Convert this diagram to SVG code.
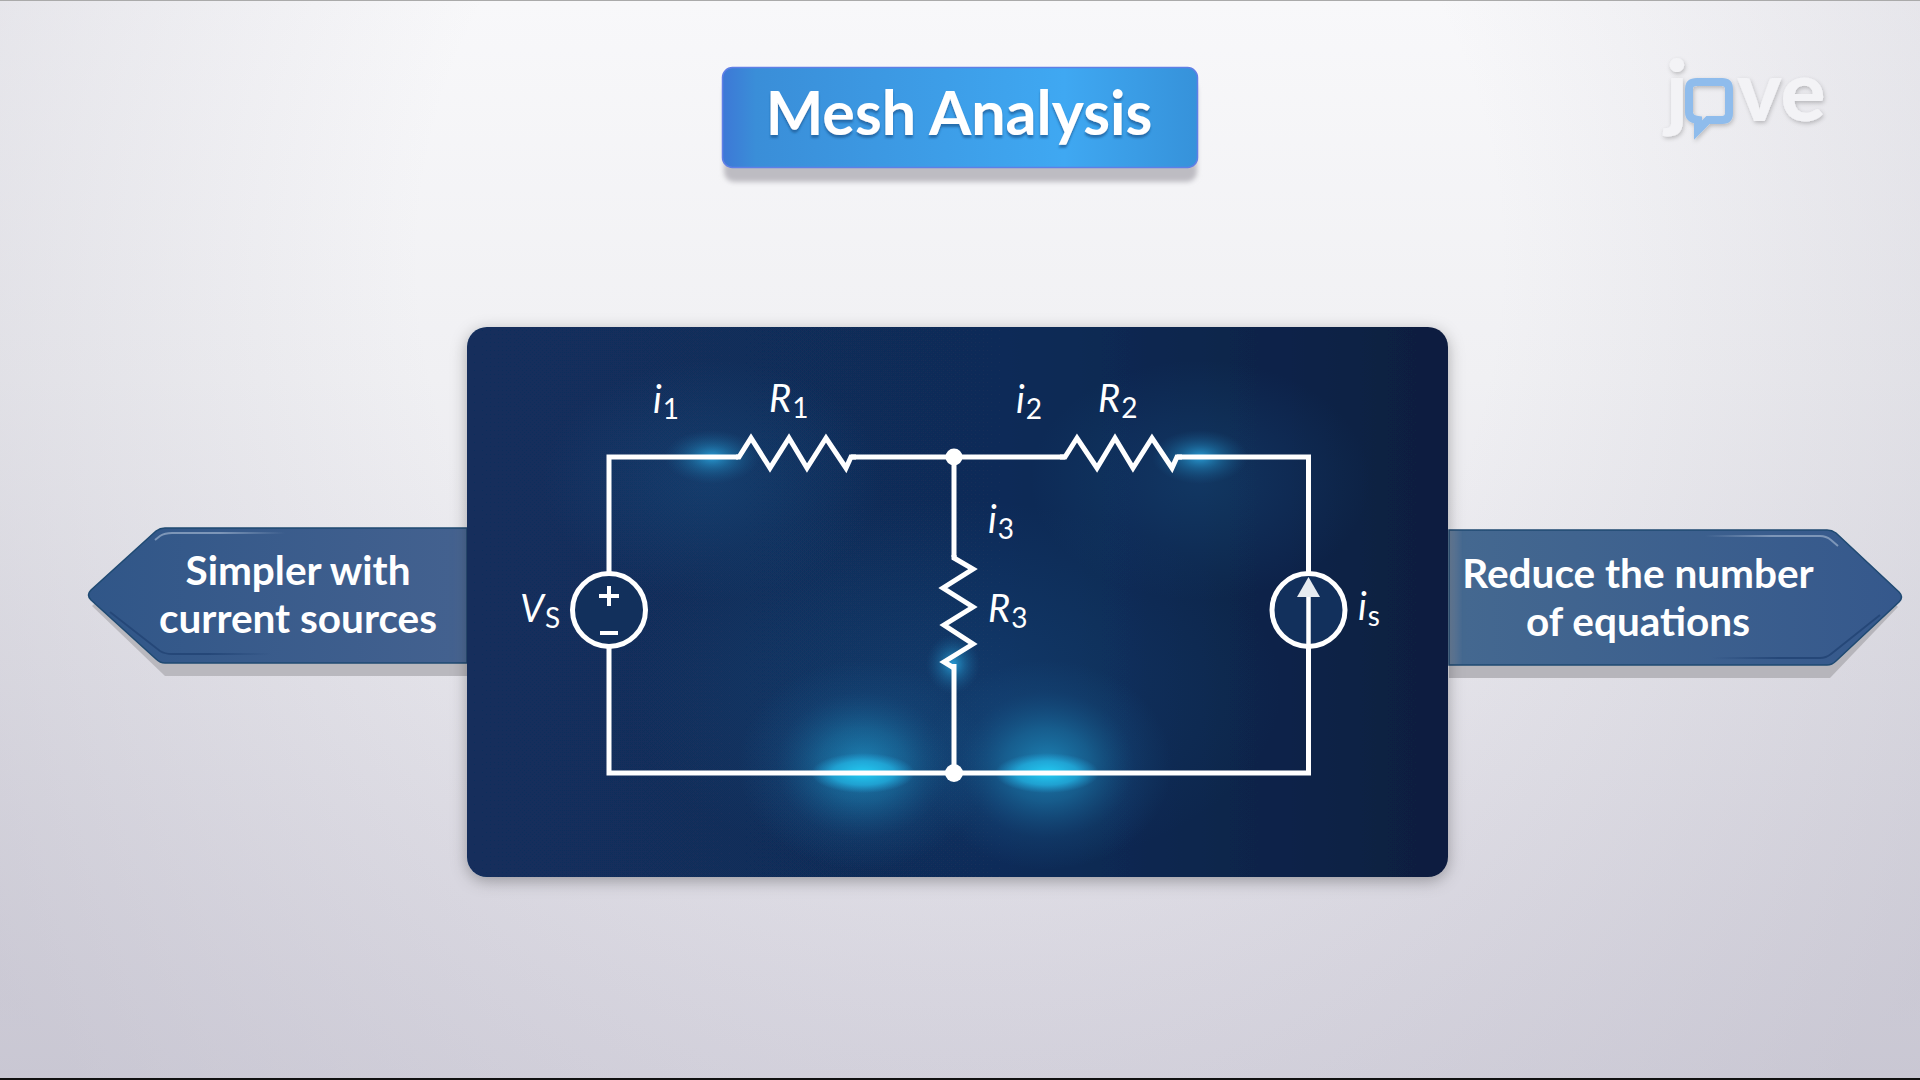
<svg xmlns="http://www.w3.org/2000/svg" width="1920" height="1080" viewBox="0 0 1920 1080">
<defs>
<style>
.bold{font-family:Lato,"Liberation Sans",sans-serif;font-weight:700;fill:#fff}
.lab{font-family:Lato,"Liberation Sans",sans-serif;font-size:38px;fill:#fff;font-style:italic}
.sub{font-size:28px;font-style:normal}
.wire{fill:none;stroke:#fff;stroke-width:5;stroke-linejoin:miter}
.disc{fill:#12305c;stroke:#fff;stroke-width:5}
</style>
<linearGradient id="bg" x1="0" y1="0" x2="0" y2="1"><stop offset="0" stop-color="#f8f8fa"/><stop offset=".35" stop-color="#f0f0f3"/><stop offset="1" stop-color="#d9d7e1"/></linearGradient>
<radialGradient id="edge" gradientUnits="userSpaceOnUse" cx="960" cy="260" r="1200"><stop offset=".45" stop-color="#a8a6b6" stop-opacity="0"/><stop offset="1" stop-color="#a8a6b6" stop-opacity=".32"/></radialGradient>
<linearGradient id="title" x1="0" y1="0" x2="1" y2="0"><stop offset="0" stop-color="#3d78d6"/><stop offset=".07" stop-color="#3a8ed8"/><stop offset=".72" stop-color="#3fa8f2"/><stop offset="1" stop-color="#3692da"/></linearGradient>
<linearGradient id="panel" x1="0" y1="0" x2="1" y2="0"><stop offset="0" stop-color="#122e5c"/><stop offset=".55" stop-color="#112c58"/><stop offset="1" stop-color="#0d1e3f"/></linearGradient>
<linearGradient id="arrL" x1="0" y1="0" x2="1" y2="0"><stop offset="0" stop-color="#305688"/><stop offset=".96" stop-color="#43618f"/><stop offset="1" stop-color="#4d6a96"/></linearGradient>
<linearGradient id="arrR" x1="0" y1="0" x2="1" y2="0"><stop offset="0" stop-color="#6d839e"/><stop offset=".03" stop-color="#446890"/><stop offset="1" stop-color="#35588c"/></linearGradient>
<linearGradient id="hiL" x1="0" y1="0" x2="1" y2="0"><stop offset="0" stop-color="#7d96b8"/><stop offset=".5" stop-color="#7d96b8"/><stop offset="1" stop-color="#7d96b8" stop-opacity="0"/></linearGradient>
<linearGradient id="hiR" x1="1" y1="0" x2="0" y2="0"><stop offset="0" stop-color="#7d96b8"/><stop offset=".5" stop-color="#7d96b8"/><stop offset="1" stop-color="#7d96b8" stop-opacity="0"/></linearGradient>
<linearGradient id="loL" x1="0" y1="0" x2="1" y2="0"><stop offset="0" stop-color="#254778"/><stop offset=".6" stop-color="#254778"/><stop offset="1" stop-color="#254778" stop-opacity="0"/></linearGradient>
<linearGradient id="loR" x1="1" y1="0" x2="0" y2="0"><stop offset="0" stop-color="#254778"/><stop offset=".6" stop-color="#254778"/><stop offset="1" stop-color="#254778" stop-opacity="0"/></linearGradient>
<radialGradient id="gWide"><stop offset="0" stop-color="#1c5f96" stop-opacity=".3"/><stop offset="1" stop-color="#1c5f96" stop-opacity="0"/></radialGradient>
<radialGradient id="gHalo"><stop offset="0" stop-color="#1e8cbe" stop-opacity=".9"/><stop offset=".35" stop-color="#1b76a8" stop-opacity=".62"/><stop offset=".7" stop-color="#18588c" stop-opacity=".22"/><stop offset="1" stop-color="#18588c" stop-opacity="0"/></radialGradient>
<radialGradient id="gCore"><stop offset="0" stop-color="#22ccf2"/><stop offset=".6" stop-color="#22b8e8" stop-opacity=".7"/><stop offset="1" stop-color="#22a8e0" stop-opacity="0"/></radialGradient>
<radialGradient id="gSmall"><stop offset="0" stop-color="#2a9fd8" stop-opacity=".95"/><stop offset=".45" stop-color="#1f7fb4" stop-opacity=".5"/><stop offset="1" stop-color="#1a5a8c" stop-opacity="0"/></radialGradient>
<filter id="pshadow" x="-5%" y="-5%" width="110%" height="112%"><feDropShadow dx="0" dy="4" stdDeviation="8" flood-color="#000" flood-opacity=".3"/></filter>
<filter id="tshadow" x="-5%" y="-10%" width="110%" height="130%"><feDropShadow dx="0" dy="3" stdDeviation="1.200" flood-color="#1c5a94" flood-opacity=".7"/></filter>
<filter id="lshadow" x="-10%" y="-10%" width="125%" height="125%"><feDropShadow dx="1" dy="2" stdDeviation="2" flood-color="#000" flood-opacity=".22"/></filter>
<filter id="soft" x="-5%" y="-20%" width="110%" height="140%"><feGaussianBlur stdDeviation="2.500"/></filter>
</defs>
<rect width="1920" height="1080" fill="url(#bg)"/>
<rect width="1920" height="1080" fill="url(#edge)"/>
<rect width="1920" height="1" fill="#aaa"/>
<rect y="1078" width="1920" height="2" fill="#111"/>

<g id="left-arrow">
<path d="M467 539H165L92 606 165 676H467Z" fill="#b9b8be"/>
<path d="M467 528H165Q160 528 156 531L91 590Q86 595 91 600L156 659Q160 663 165 663H467Z" fill="url(#arrL)" stroke="#1f4a72" stroke-width="1.500"/>
<path d="M155 540L160 536Q165 533 172 533H285" fill="none" stroke="url(#hiL)" stroke-width="2"/>
<path d="M110 612L160 651Q165 654 172 654H272" fill="none" stroke="url(#loL)" stroke-width="2"/>
<text class="bold" font-size="40.500" text-anchor="middle" x="298" y="585">Simpler with</text>
<text class="bold" font-size="40.500" text-anchor="middle" x="298" y="633">current sources</text>
</g>

<g id="right-arrow">
<path d="M1449 541H1830L1898 607 1830 678H1449Z" fill="#b6b5bb"/>
<path d="M1449 530H1827Q1832 530 1836 533L1899 592Q1904 597 1899 602L1836 661Q1832 665 1827 665H1449Z" fill="url(#arrR)" stroke="#1f4a72" stroke-width="1.500"/>
<path d="M1705 536H1820Q1826 536 1831 540L1838 546" fill="none" stroke="url(#hiR)" stroke-width="2"/>
<path d="M1712 658H1820Q1826 658 1831 654L1880 615" fill="none" stroke="url(#loR)" stroke-width="2"/>
<text class="bold" font-size="40.500" text-anchor="middle" x="1638" y="588">Reduce the number</text>
<text class="bold" font-size="40.500" text-anchor="middle" x="1638" y="636">of equations</text>
</g>

<g id="title-box">
<rect x="724" y="80" width="473" height="102" rx="10" fill="#bdbcc2" filter="url(#soft)"/>
<rect x="722.500" y="67.500" width="475" height="100" rx="10" fill="url(#title)" stroke="#5f7fe6" stroke-width="1.500"/>
<text class="bold" font-size="61" text-anchor="middle" x="959" y="135" filter="url(#tshadow)">Mesh Analysis</text>
</g>

<g id="logo" filter="url(#lshadow)">
<text class="bold" font-size="84" x="1666" y="121" style="fill:#f3f3f6;font-weight:900">j</text>
<path d="M1697 82H1722Q1729 82 1729 89V113Q1729 120 1722 120H1708L1698 130V120Q1689 119 1689 112V89Q1689 82 1697 82Z" fill="none" stroke="#8fbcec" stroke-width="8"/>
<text class="bold" font-size="84" x="1737" y="121" style="fill:#f3f3f6;font-weight:900">ve</text>
</g>

<g id="panel-box">
<rect x="467" y="327" width="981" height="550" rx="20" fill="url(#panel)" filter="url(#pshadow)"/>
</g>

<g id="glows">
<ellipse cx="712" cy="480" rx="170" ry="120" fill="url(#gWide)"/>
<ellipse cx="1200" cy="480" rx="170" ry="120" fill="url(#gWide)"/>
<ellipse cx="953" cy="690" rx="330" ry="190" fill="url(#gWide)"/>
<ellipse cx="712" cy="457" rx="48" ry="27" fill="url(#gSmall)"/>
<ellipse cx="1200" cy="457" rx="48" ry="27" fill="url(#gSmall)"/>
<ellipse cx="953" cy="664" rx="27" ry="30" fill="url(#gSmall)"/>
<ellipse cx="863" cy="765" rx="125" ry="105" fill="url(#gHalo)"/>
<ellipse cx="1047" cy="765" rx="125" ry="105" fill="url(#gHalo)"/>
<ellipse cx="863" cy="773" rx="52" ry="20" fill="url(#gCore)"/>
<ellipse cx="1047" cy="773" rx="52" ry="20" fill="url(#gCore)"/>
</g>

<g id="connectors">
<path class="wire" d="M738 457H609V577"/>
<path class="wire" d="M851 457H1065"/>
<path class="wire" d="M1177 457H1308.500V573"/>
<path class="wire" d="M954 457V557"/>
<path class="wire" d="M954 664V773"/>
<path class="wire" d="M609 647V773H1308.500V647"/>
</g>

<g id="R1"><path class="wire" d="M736 457H739L751 438 770 468 789 438 807 468 826 438 846 468 851 457H856"/></g>
<g id="R2"><path class="wire" d="M1060 457H1065L1077 438 1097 468 1115 438 1133 468 1152 438 1172 468 1177 457H1182"/></g>
<g id="R3"><path class="wire" d="M954 555V558L973 569 943 588 973 607 944 625 973 644 944 662 954 668"/></g>

<g id="Vs">
<circle class="disc" cx="609" cy="610" r="36.500"/>
<path d="M599 596H619M609 586V606M600 633H618" fill="none" stroke="#fff" stroke-width="4"/>
</g>
<g id="Is">
<circle class="disc" cx="1308.500" cy="610" r="36.500"/>
<path d="M1308.500 595V647" fill="none" stroke="#fff" stroke-width="4.500"/>
<path d="M1308.500 577L1320 597H1297Z" fill="#e6ebf0"/>
</g>

<g id="junction-top"><circle cx="954" cy="457" r="8.500" fill="#fff"/></g>
<g id="junction-bottom"><circle cx="954" cy="773" r="9" fill="#fff"/></g>

<g id="labels">
<text class="lab" x="653" y="413">i<tspan class="sub" dx="1" dy="6">1</tspan></text>
<text class="lab" x="769" y="412">R<tspan class="sub" dx="1" dy="6">1</tspan></text>
<text class="lab" x="1016" y="413">i<tspan class="sub" dx="1" dy="6">2</tspan></text>
<text class="lab" x="1098" y="412">R<tspan class="sub" dx="1" dy="6">2</tspan></text>
<text class="lab" x="988" y="533">i<tspan class="sub" dx="1" dy="6">3</tspan></text>
<text class="lab" x="988" y="622">R<tspan class="sub" dx="1" dy="6">3</tspan></text>
<text class="lab" x="1358" y="620">i<tspan class="sub" dx="1" dy="6">s</tspan></text>
<text class="lab" x="520" y="622">V<tspan class="sub" dx="1" dy="6">S</tspan></text>
</g>
</svg>
